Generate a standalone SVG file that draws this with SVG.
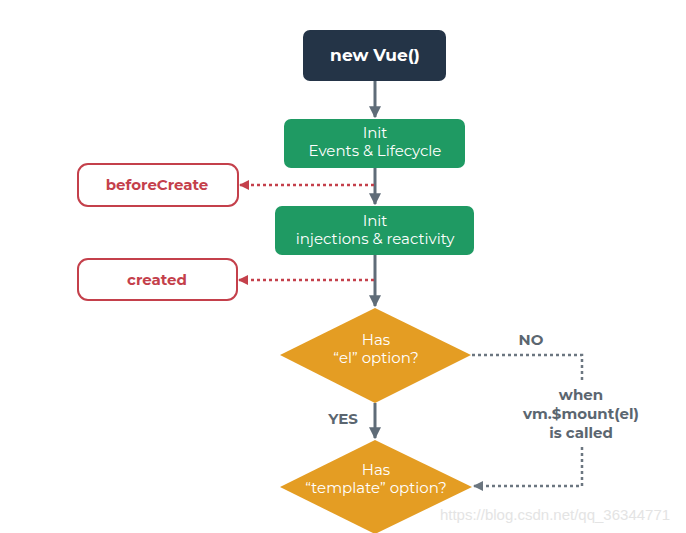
<svg xmlns="http://www.w3.org/2000/svg" width="686" height="533" viewBox="0 0 686 533">
<style>
text{font-family:Montserrat,"Noto Sans","Liberation Sans",sans-serif;text-anchor:middle}
.w{fill:#fff;font-size:15px}
.r{fill:#c4404b;font-size:15px;font-weight:bold}
.g{fill:#5b6670;font-size:15px;font-weight:bold}
.solid{stroke:#5f6c78;stroke-width:3;fill:none}
.rd{stroke:#c4404b;stroke-width:2.5;stroke-dasharray:3 3;fill:none}
.gd{stroke:#6b7680;stroke-width:2.5;stroke-dasharray:3 3;fill:none}
.green{fill:#1f9a63}
.or{fill:#e49d23}
</style>
<defs>
<marker id="ag" viewBox="0 0 10 10" refX="9" refY="5" markerWidth="4" markerHeight="4" orient="auto"><path d="M0,0L10,5L0,10z" fill="#5f6c78"/></marker>
<marker id="ar" viewBox="0 0 10 10" refX="9" refY="5" markerWidth="4" markerHeight="4" orient="auto"><path d="M0,0L10,5L0,10z" fill="#c4404b"/></marker>
<marker id="ad" viewBox="0 0 10 10" refX="9" refY="5" markerWidth="4" markerHeight="4" orient="auto"><path d="M0,0L10,5L0,10z" fill="#6b7680"/></marker>
</defs>
<rect width="686" height="533" fill="#fff"/>
<g id="connectors">
<path class="solid" d="M375,81V117" marker-end="url(#ag)"/>
<path class="solid" d="M375,168V204" marker-end="url(#ag)"/>
<path class="solid" d="M375,255V306" marker-end="url(#ag)"/>
<path class="solid" d="M375,403V438" marker-end="url(#ag)"/>
<path class="rd" d="M374,185H240" marker-end="url(#ar)"/>
<path class="rd" d="M374,280H239" marker-end="url(#ar)"/>
<path class="gd" d="M472,355H582V382"/>
<path class="gd" d="M582,447V486H474" marker-end="url(#ad)"/>
<text class="g" x="343" y="424">YES</text>
<text class="g" x="531" y="345">NO</text>
<text class="g" x="581" y="400">when</text>
<text class="g" x="581" y="419">vm.$mount(el)</text>
<text class="g" x="581" y="438">is called</text>
</g>
<g id="newvue"><rect x="303" y="30" width="143" height="51" rx="7" fill="#243447"/><text class="w" x="375" y="61" style="font-size:17px;font-weight:bold">new Vue()</text></g>
<g id="initEvents"><rect class="green" x="284" y="119" width="181" height="49" rx="7"/><text class="w" x="375" y="138">Init</text><text class="w" x="375" y="156">Events &amp; Lifecycle</text></g>
<g id="beforeCreate"><rect x="78" y="164" width="160" height="42" rx="10" fill="#fff" stroke="#c4404b" stroke-width="2"/><text class="r" x="157" y="190">beforeCreate</text></g>
<g id="initInj"><rect class="green" x="275" y="206" width="199" height="49" rx="7"/><text class="w" x="375" y="226">Init</text><text class="w" x="375" y="244">injections &amp; reactivity</text></g>
<g id="created"><rect x="78" y="259" width="159" height="41" rx="10" fill="#fff" stroke="#c4404b" stroke-width="2"/><text class="r" x="157" y="285">created</text></g>
<g id="hasEl"><path class="or" d="M375,308L471,355L375,403L280,355z"/><text class="w" x="376" y="345">Has</text><text class="w" x="376" y="363">“el” option?</text></g>
<g id="hasTemplate"><path class="or" d="M375,440L472,487L375,534L280,487z"/><text class="w" x="376" y="475">Has</text><text class="w" x="376" y="493">“template” option?</text></g>
<text x="555" y="520" style="font-family:'Liberation Sans',sans-serif;font-size:15px;fill:#e4e4e4">https://blog.csdn.net/qq_36344771</text>
</svg>
